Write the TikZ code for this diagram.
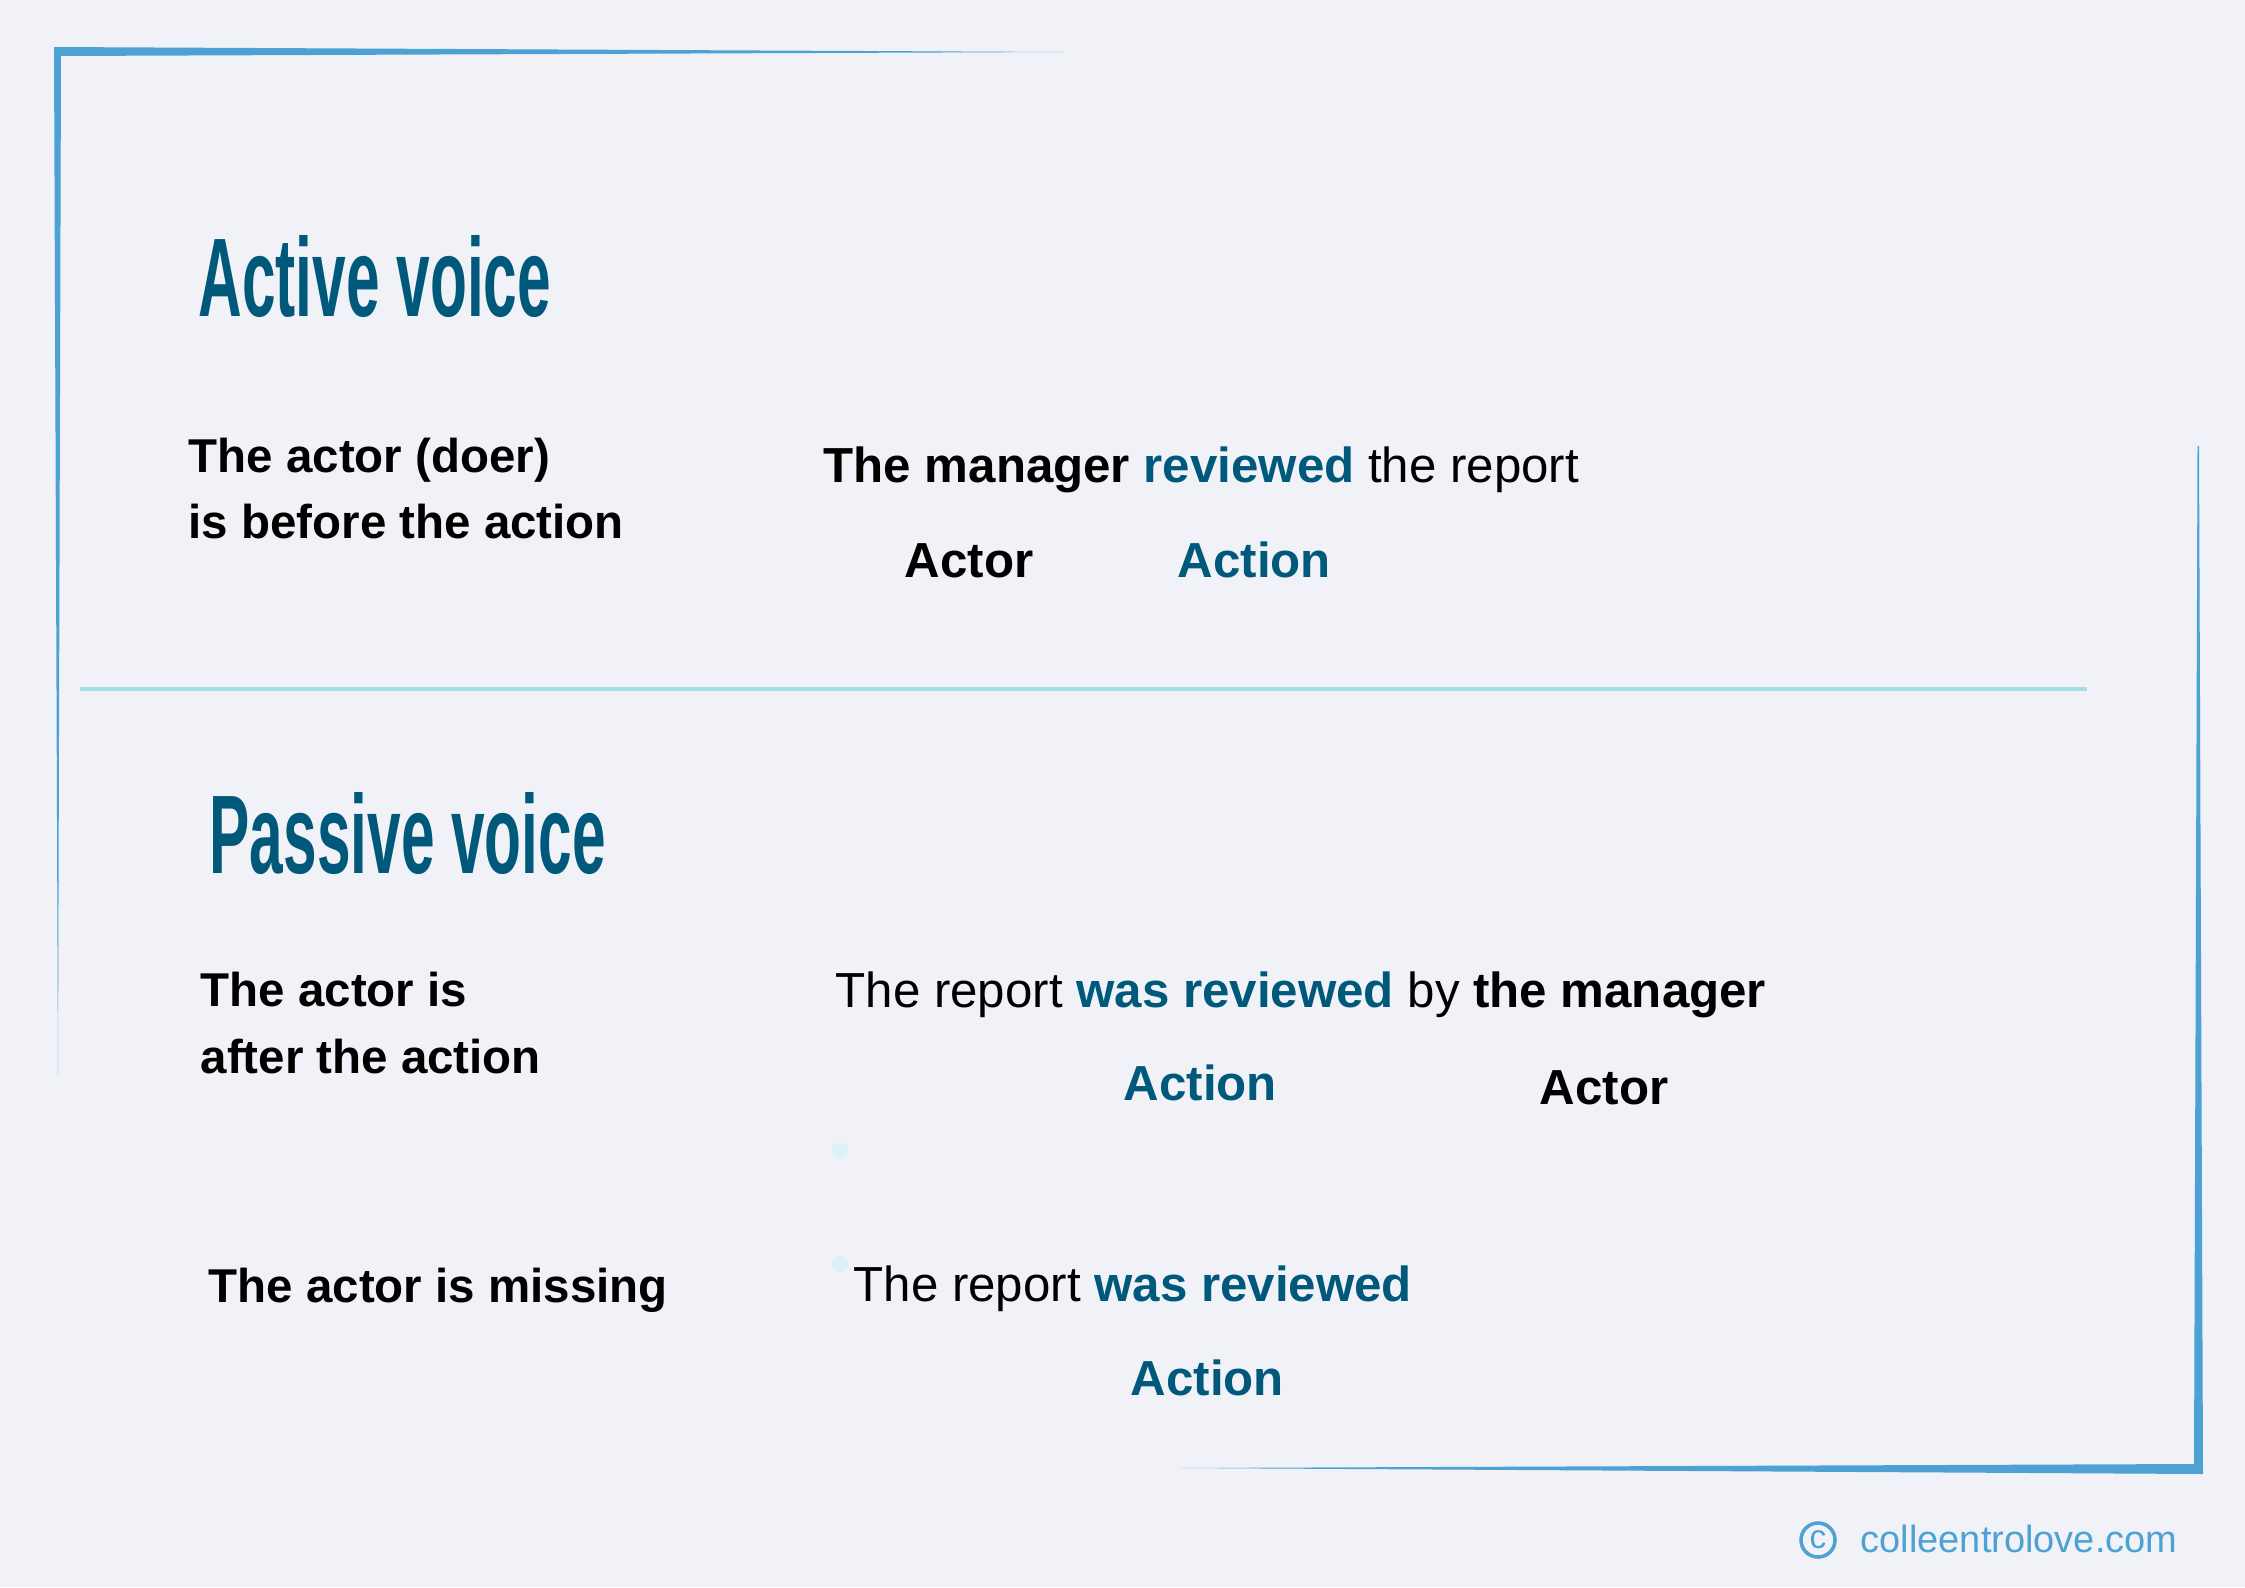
\documentclass[tikz,border=0pt]{standalone}
\usepackage{fontspec}
\setmainfont{Liberation Sans}
\newfontfamily\headingfont{Liberation Sans}[FakeStretch=0.54]
\usetikzlibrary{positioning}
\definecolor{pagebg}{HTML}{F0F2F7}
\definecolor{voiceteal}{HTML}{00587A}
\definecolor{frameblue}{HTML}{4DA1D3}
\definecolor{rulecyan}{HTML}{A7DCEB}
\definecolor{dotcyan}{HTML}{DDF2F7}
\newcommand{\doing}[1]{{\bfseries\color{voiceteal}#1}}

\begin{document}
\begin{tikzpicture}[x=0.01cm, y=-0.01cm]
\tikzstyle{heading} = [anchor=base west, inner sep=0pt, text=voiceteal, font=\headingfont\bfseries\fontsize{31.8}{36}\selectfont]
\tikzstyle{ruletext} = [anchor=base west, inner sep=0pt, font=\bfseries\fontsize{13.5}{16}\selectfont]
\tikzstyle{sentence} = [anchor=base west, inner sep=0pt, font=\fontsize{14}{17}\selectfont]
\tikzstyle{actor} = [anchor=base west, inner sep=0pt, font=\bfseries\fontsize{14}{17}\selectfont]
\tikzstyle{action} = [actor, text=voiceteal]
\tikzstyle{framefill} = [fill=frameblue, draw=none]

% page and frame
\fill[pagebg] (0,0) rectangle (2245,1587);
\fill[framefill] (54,47) -- (1065,52) -- (61,56) -- (58,1075) -- cycle;
\fill[framefill] (1180,1468) -- (2194,1464) -- (2197.5,446) -- (2199,446) -- (2203,1474) -- cycle;
\draw[rulecyan, line width=1.15pt] (80,689) -- (2087,689);
\fill[dotcyan] (840,1151) circle (8.5);
\fill[dotcyan] (840,1264) circle (8.5);

% active voice
\node (act) [heading] at (198,316) {Active voice};
\node (act1) [ruletext] at (188,472) {The actor (doer)};
\node (act2) [ruletext] at (188,538) {is before the action};
\node (actsent) [sentence] at (823,482) {\bfseries The manager \doing{reviewed} \mdseries the report};
\node (actactor) [actor] at (904,577) {Actor};
\node (actaction) [action] at (1177,577) {Action};

% passive voice
\node (pas) [heading] at (209,873) {Passive voice};
\node (pas1) [ruletext] at (200,1006) {The actor is};
\node (pas2) [ruletext] at (200,1073) {after the action};
\node (passent) [sentence] at (835,1007) {The report \doing{was reviewed} by \textbf{the manager}};
\node (pasaction) [action] at (1123,1100) {Action};
\node (pasactor) [actor] at (1539,1104) {Actor};

% missing actor
\node (mis) [ruletext] at (208,1302) {The actor is missing};
\node (missent) [sentence] at (853,1301) {The report \doing{was reviewed}};
\node (misaction) [action] at (1130,1395) {Action};

% credit
\node (copy) [circle, draw=frameblue, line width=1pt, minimum size=0.34cm, inner sep=0pt, text=frameblue, font=\fontsize{9.5}{10}\selectfont] at (1818,1540) {c};
\node (site) [anchor=base west, inner sep=0pt, text=frameblue, font=\fontsize{10.8}{12}\selectfont] at (1860,1552) {colleentrolove.com};
\end{tikzpicture}
\end{document}
